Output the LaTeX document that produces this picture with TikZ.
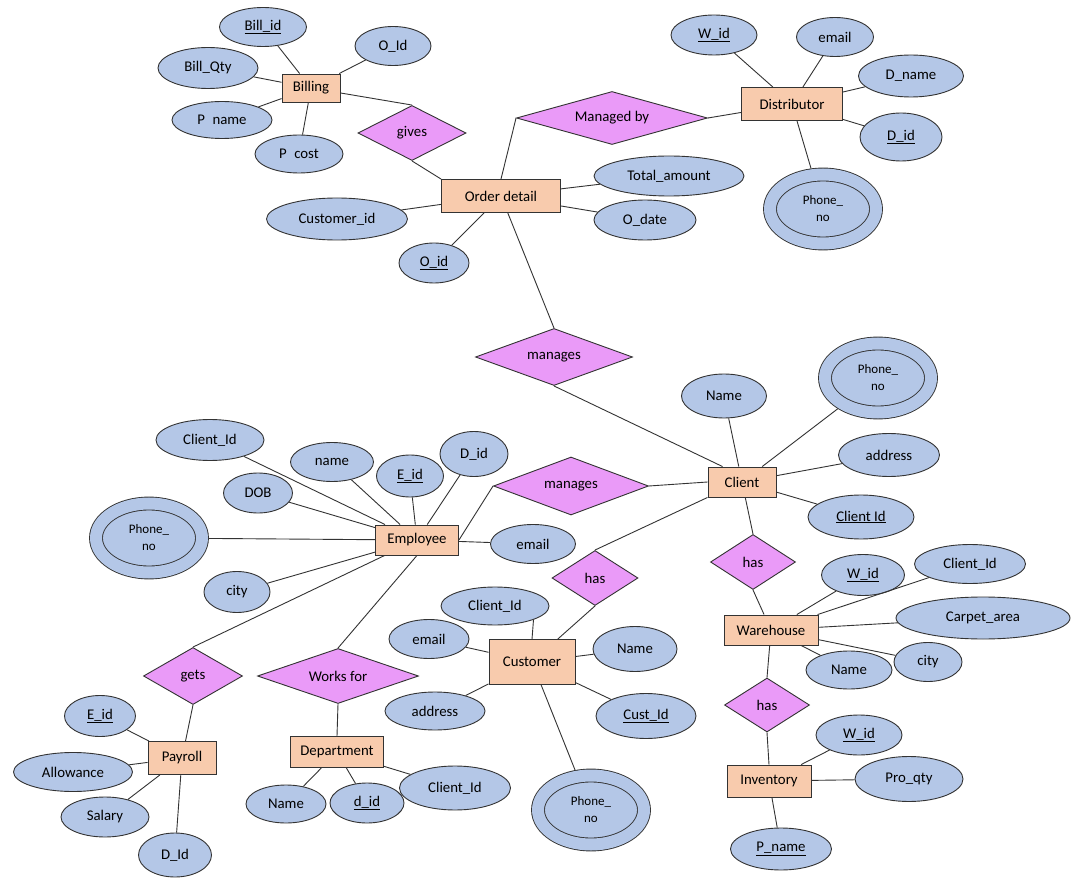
\documentclass[tikz,border=0pt]{standalone}
\usepackage{fontspec}
\setmainfont{Carlito}
\usepackage{tikz}
\usetikzlibrary{shapes.geometric}

\definecolor{entfill}{HTML}{F8CBAD}
\definecolor{attfill}{HTML}{B4C7E7}
\definecolor{relfill}{HTML}{EA9AF8}
\definecolor{edge}{HTML}{333333}

\newcommand{\txt}{\fontsize{14.8pt}{17pt}\selectfont}

\begin{document}
\begin{tikzpicture}[x=1pt, y=-1pt, line width=0.9pt, color=edge,
    sz/.style 2 args = {minimum width=#1pt, minimum height=#2pt},
    ent/.style = {draw, fill=entfill, inner sep=0pt, text=black, font=\txt},
    att/.style = {draw, ellipse, fill=attfill, inner sep=0pt, text=black, font=\txt},
    multi/.style = {att, double=attfill, double distance=12pt, outer sep=6.9pt, align=center, font=\fontsize{13pt}{17pt}\selectfont},
    rel/.style = {draw, diamond, fill=relfill, inner sep=0pt, aspect=3, text=black, font=\txt}]
    \useasboundingbox[fill=white] (0,0) rectangle (1090,885);

    % entities
    \node[ent, sz={58}{28}] (bill) at (311,88) {Billing};
    \node[ent, sz={119}{33}] (order) at (501,196) {Order detail};
    \node[ent, sz={101}{33}] (dist) at (792,104) {Distributor};
    \node[ent, sz={68}{30}] (client) at (742,482) {Client};
    \node[ent, sz={83}{30}] (emp) at (417,540) {Employee};
    \node[ent, sz={94}{30}] (ware) at (771,630) {Warehouse};
    \node[ent, sz={86}{45}] (cust) at (532,662) {Customer};
    \node[ent, sz={68}{33}] (pay) at (182,758) {Payroll};
    \node[ent, sz={93}{31}] (dept) at (337,752) {Department};
    \node[ent, sz={84}{32}] (inv) at (769,781) {Inventory};

    % relationships
    \node[rel, sz={108}{55}] (gives) at (412,133) {gives};
    \node[rel, sz={191}{53}] (mb) at (612,118) {Managed by};
    \node[rel, sz={157}{57}] (man1) at (554,357) {manages};
    \node[rel, sz={155}{58}] (man2) at (571,486) {manages};
    \node[rel, sz={86}{55}] (has1) at (595,578) {has};
    \node[rel, sz={85}{55}] (has2) at (753,562) {has};
    \node[rel, sz={85}{54}] (has3) at (767,705) {has};
    \node[rel, sz={99}{57}] (gets) at (193,676) {gets};
    \node[rel, sz={161}{55}] (works) at (338,676) {Works for};

    % attributes of Billing and Order detail
    \node[att, sz={87}{39}] (billid) at (263,27) {\underline{Bill\_id}};
    \node[att, sz={76}{39}] (boid) at (393,46) {O\_Id};
    \node[att, sz={100}{41}] (bqty) at (208,68) {Bill\_Qty};
    \node[att, sz={100}{37}] (bpname) at (222,120) {P\enspace name};
    \node[att, sz={88}{38}] (bpcost) at (299,154) {P\enspace cost};
    \node[att, sz={141}{42}] (ocid) at (337,219) {Customer\_id};
    \node[att, sz={70}{40}] (oid) at (434,263) {\underline{O\_id}};
    \node[att, sz={150}{40}] (otot) at (669,176) {Total\_amount};
    \node[att, sz={102}{40}] (odate) at (645,220) {O\_date};

    % attributes of Distributor
    \node[att, sz={86}{40}] (dwid) at (714,35) {\underline{W\_id}};
    \node[att, sz={77}{39}] (demail) at (835,37) {email};
    \node[att, sz={105}{42}] (dname) at (911,76) {D\_name};
    \node[att, sz={82}{48}] (did) at (901,137) {\underline{D\_id}};
    \node[multi, sz={106}{69}] (dphone) at (823,209) {Phone\_\\no};

    % attributes of Client
    \node[att, sz={85}{44}] (cname) at (724,396) {Name};
    \node[multi, sz={106}{69}] (cphone) at (878,378) {Phone\_\\no};
    \node[att, sz={101}{43}] (caddr) at (889,455) {address};
    \node[att, sz={106}{44}] (ccid) at (861,517) {\underline{Client Id}};

    % attributes of Employee
    \node[att, sz={108}{41}] (ecid) at (210,440) {Client\_Id};
    \node[att, sz={83}{39}] (ename) at (332,462) {name};
    \node[att, sz={69}{40}] (edob) at (258,493) {DOB};
    \node[att, sz={67}{42}] (eid) at (410,476) {\underline{E\_id}};
    \node[att, sz={68}{45}] (edid) at (474,454) {D\_id};
    \node[multi, sz={106}{69}] (ephone) at (149,538) {Phone\_\\no};
    \node[att, sz={66}{41}] (ecity) at (237,592) {city};
    \node[att, sz={85}{39}] (eemail) at (533,544) {email};

    % attributes of Customer
    \node[att, sz={108}{38}] (kcid) at (495,606) {Client\_Id};
    \node[att, sz={80}{39}] (kemail) at (429,639) {email};
    \node[att, sz={100}{38}] (kaddr) at (435,711) {address};
    \node[att, sz={84}{45}] (kname) at (635,649) {Name};
    \node[att, sz={100}{45}] (kid) at (646,716) {\underline{Cust\_Id}};
    \node[multi, sz={106}{69}] (kphone) at (591,810) {Phone\_\\no};

    % attributes of Warehouse and Inventory
    \node[att, sz={83}{41}] (wid) at (863,575) {\underline{W\_id}};
    \node[att, sz={111}{39}] (wcid) at (970,564) {Client\_Id};
    \node[att, sz={174}{42}] (warea) at (983,618) {Carpet\_area};
    \node[att, sz={86}{38}] (wname) at (849,670) {Name};
    \node[att, sz={68}{39}] (wcity) at (928,662) {city};
    \node[att, sz={86}{40}] (iwid) at (859,735) {\underline{W\_id}};
    \node[att, sz={108}{45}] (iqty) at (909,779) {Pro\_qty};
    \node[att, sz={101}{42}] (ipname) at (781,849) {\underline{P\_name}};

    % attributes of Payroll and Department
    \node[att, sz={71}{41}] (peid) at (100,716) {\underline{E\_id}};
    \node[att, sz={119}{39}] (pallow) at (73,772) {Allowance};
    \node[att, sz={88}{40}] (psal) at (105,817) {Salary};
    \node[att, sz={73}{44}] (pdid) at (175,855) {D\_Id};
    \node[att, sz={80}{38}] (tname) at (286,804) {Name};
    \node[att, sz={74}{40}] (tdid) at (367,803) {\underline{d\_id}};
    \node[att, sz={111}{44}] (tcid) at (455,788) {Client\_Id};

    % relationship lines
    \draw (bill) to (gives.north);
    \draw (gives.south) to (order.north west);
    \draw (order.north) to (mb.west);
    \draw (mb.east) to (dist);
    \draw (order) to (man1.north);
    \draw (man1.south) to ([xshift=15pt]client.north west);
    \draw (man2.east) to (client.west);
    \draw (emp.east) to (man2.west);
    \draw (client.south west) to (has1.north);
    \draw (has1.south) to (cust);
    \draw (client) to (has2.north);
    \draw (has2.south) to (ware);
    \draw (ware) to (has3.north);
    \draw (has3.south) to (inv.north);
    \draw (emp) to (gets.north);
    \draw (gets.south) to (pay);
    \draw (emp.south) to (works.north);
    \draw (works.south) to (dept.north);

    % attribute lines
    \draw (billid) to (bill);
    \draw (boid) to (bill);
    \draw (bqty) to (bill);
    \draw (bpname) to (bill);
    \draw (bpcost) to (bill);
    \draw (ocid) to (order);
    \draw (oid) to (order);
    \draw (otot) to (order);
    \draw (odate) to (order);
    \draw (dwid) to (dist);
    \draw (demail) to (dist);
    \draw (dname) to (dist);
    \draw (did) to (dist);
    \draw (dphone) to (dist);
    \draw (cname) to (client);
    \draw (cphone) to (client);
    \draw (caddr) to (client);
    \draw (ccid) to (client);
    \draw (ecid) to (emp);
    \draw (ename) to (emp);
    \draw (edob) to (emp);
    \draw (eid) to (emp);
    \draw (edid) to (emp);
    \draw (ephone) to (emp);
    \draw (ecity) to (emp);
    \draw (eemail) to (emp);
    \draw (kcid.south east) to (cust.north);
    \draw (kemail) to (cust);
    \draw (kaddr) to (cust);
    \draw (kname) to (cust);
    \draw (kid) to (cust);
    \draw (kphone) to (cust);
    \draw (wid) to (ware);
    \draw (wcid) to (ware);
    \draw (warea) to (ware);
    \draw (wname) to (ware);
    \draw (wcity) to (ware);
    \draw (iwid) to (inv);
    \draw (iqty) to (inv);
    \draw (ipname) to (inv);
    \draw (peid) to (pay);
    \draw (pallow) to (pay);
    \draw (psal) to (pay);
    \draw (pdid) to (pay);
    \draw (tname) to (dept);
    \draw (tdid) to (dept);
    \draw (tcid) to (dept);
\end{tikzpicture}
\end{document}
